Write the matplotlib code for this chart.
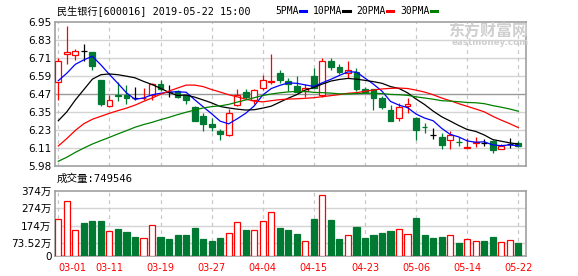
import matplotlib
matplotlib.use('Agg')
import matplotlib.pyplot as plt
from matplotlib.lines import Line2D
import numpy as np

#%% data (600016, daily, 2019-03-01 .. 2019-05-22)
dates = ['03-01', '03-04', '03-05', '03-06', '03-07', '03-08', '03-11', '03-12', '03-13', '03-14',
         '03-15', '03-18', '03-19', '03-20', '03-21', '03-22', '03-25', '03-26', '03-27', '03-28',
         '03-29', '04-01', '04-02', '04-03', '04-04', '04-08', '04-09', '04-10', '04-11', '04-12',
         '04-15', '04-16', '04-17', '04-18', '04-19', '04-22', '04-23', '04-24', '04-25', '04-26',
         '04-29', '04-30', '05-06', '05-07', '05-08', '05-09', '05-10', '05-13', '05-14', '05-15',
         '05-16', '05-17', '05-20', '05-21', '05-22']

open_ = [6.55, 6.74, 6.73, 6.76, 6.75, 6.565, 6.39, 6.465, 6.465, 6.44,
         6.44, 6.46, 6.54, 6.485, 6.49, 6.465, 6.38, 6.325, 6.265, 6.22,
         6.195, 6.395, 6.485, 6.43, 6.51, 6.553, 6.61, 6.56, 6.525, 6.49,
         6.59, 6.46, 6.69, 6.65, 6.61, 6.62, 6.505, 6.505, 6.445, 6.36,
         6.305, 6.39, 6.31, 6.25, 6.195, 6.18, 6.16, 6.15, 6.105, 6.14,
         6.14, 6.155, 6.10, 6.135, 6.14]
high = [6.71, 6.93, 6.77, 6.81, 6.75, 6.565, 6.46, 6.55, 6.53, 6.52,
        6.51, 6.545, 6.565, 6.53, 6.50, 6.465, 6.39, 6.34, 6.31, 6.235,
        6.37, 6.505, 6.505, 6.505, 6.60, 6.74, 6.63, 6.58, 6.59, 6.54,
        6.645, 6.71, 6.71, 6.67, 6.69, 6.645, 6.52, 6.505, 6.455, 6.395,
        6.41, 6.445, 6.315, 6.275, 6.24, 6.21, 6.22, 6.18, 6.175, 6.18,
        6.17, 6.16, 6.13, 6.175, 6.155]
low = [6.43, 6.67, 6.70, 6.69, 6.63, 6.39, 6.385, 6.425, 6.405, 6.43,
       6.43, 6.43, 6.49, 6.45, 6.44, 6.40, 6.285, 6.22, 6.22, 6.16,
       6.185, 6.39, 6.435, 6.40, 6.495, 6.54, 6.545, 6.49, 6.485, 6.45,
       6.51, 6.45, 6.635, 6.605, 6.58, 6.49, 6.475, 6.36, 6.37, 6.285,
       6.29, 6.34, 6.16, 6.21, 6.17, 6.10, 6.10, 6.12, 6.105, 6.11,
       6.12, 6.07, 6.10, 6.105, 6.11]
close = [6.69, 6.75, 6.76, 6.76, 6.66, 6.40, 6.43, 6.455, 6.445, 6.44,
         6.445, 6.54, 6.505, 6.485, 6.45, 6.43, 6.29, 6.265, 6.25, 6.20,
         6.34, 6.46, 6.45, 6.50, 6.565, 6.558, 6.565, 6.535, 6.485, 6.51,
         6.51, 6.69, 6.65, 6.615, 6.63, 6.505, 6.485, 6.445, 6.38, 6.285,
         6.38, 6.40, 6.23, 6.245, 6.195, 6.125, 6.195, 6.145, 6.11, 6.15,
         6.14, 6.09, 6.12, 6.135, 6.12]

ma5 = [6.56, 6.61, 6.67, 6.70, 6.724, 6.666, 6.602, 6.541, 6.478, 6.434,
       6.443, 6.465, 6.475, 6.483, 6.485, 6.482, 6.432, 6.384, 6.337, 6.287,
       6.269, 6.303, 6.34, 6.39, 6.463, 6.507, 6.528, 6.545, 6.542, 6.531,
       6.521, 6.546, 6.569, 6.595, 6.619, 6.618, 6.577, 6.536, 6.489, 6.42,
       6.395, 6.378, 6.335, 6.308, 6.29, 6.239, 6.198, 6.181, 6.154, 6.145,
       6.148, 6.127, 6.122, 6.127, 6.121]
ma10 = [6.29, 6.35, 6.43, 6.50, 6.57, 6.60, 6.605, 6.60, 6.59, 6.579,
        6.555, 6.534, 6.508, 6.481, 6.46, 6.463, 6.449, 6.43, 6.41, 6.386,
        6.376, 6.368, 6.362, 6.364, 6.375, 6.388, 6.415, 6.442, 6.466, 6.497,
        6.514, 6.537, 6.557, 6.568, 6.575, 6.57, 6.562, 6.553, 6.542, 6.52,
        6.507, 6.478, 6.436, 6.399, 6.355, 6.317, 6.288, 6.258, 6.231, 6.218,
        6.194, 6.163, 6.152, 6.141, 6.133]
ma20 = [6.12, 6.17, 6.225, 6.27, 6.30, 6.32, 6.34, 6.358, 6.375, 6.395,
        6.42, 6.443, 6.468, 6.49, 6.51, 6.53, 6.53, 6.52, 6.50, 6.483,
        6.465, 6.451, 6.435, 6.422, 6.417, 6.425, 6.432, 6.436, 6.438, 6.441,
        6.445, 6.452, 6.459, 6.466, 6.475, 6.479, 6.488, 6.497, 6.504, 6.508,
        6.51, 6.507, 6.496, 6.483, 6.465, 6.443, 6.425, 6.405, 6.387, 6.369,
        6.35, 6.32, 6.294, 6.27, 6.244]
ma30 = [6.017, 6.044, 6.077, 6.106, 6.133, 6.156, 6.178, 6.201, 6.223, 6.246,
        6.264, 6.279, 6.297, 6.313, 6.331, 6.347, 6.362, 6.376, 6.385, 6.39,
        6.40, 6.415, 6.43, 6.445, 6.46, 6.47, 6.478, 6.484, 6.487, 6.487,
        6.481, 6.479, 6.476, 6.471, 6.47, 6.473, 6.475, 6.475, 6.473, 6.467,
        6.465, 6.461, 6.451, 6.443, 6.435, 6.425, 6.422, 6.418, 6.413, 6.411,
        6.405, 6.392, 6.381, 6.369, 6.354]

# volume in 万 (10k hands)
volume = [213, 319, 152, 191, 203, 199, 142, 154, 138, 112,
          106, 177, 112, 99, 118, 118, 160, 99, 87, 106,
          134, 197, 148, 152, 203, 252, 160, 148, 124, 87,
          215, 350, 205, 99, 118, 167, 106, 118, 130, 144,
          154, 124, 221, 118, 106, 112, 118, 77, 99, 87,
          87, 112, 81, 93, 74.95]

price_ticks = ['6.95', '6.83', '6.71', '6.59', '6.47', '6.35', '6.23', '6.11', '5.98']
vol_ticks = [374, 274, 174, 73.52, 0]
vol_labels = ['374万', '274万', '174万', '73.52万', '0']

#%% styles
RED = '#ff0000'
GRN = '#007a33'
FRAME = '#a0a0a0'
GRID = '#d4d4d4'
CJK = ['DejaVu Sans', 'Noto Sans CJK SC']
MONO = ['DejaVu Sans Mono', 'Noto Sans CJK SC']

W, H = 578, 276
def box(l, t, r, b):
    return [l / W, 1 - b / H, (r - l) / W, (b - t) / H]

fig = plt.figure(figsize=(W / 100, H / 100), dpi=100)
ax = fig.add_axes(box(55, 22, 525.7, 166))
axv = fig.add_axes(box(55, 191, 525.7, 256))

n = len(dates)
x = np.arange(n)
o = np.array(open_); c = np.array(close); h = np.array(high); l = np.array(low)
bw = 0.68

for i in range(n):
    if c[i] > o[i]:
        ax.vlines(i, l[i], h[i], color=RED, lw=0.9, zorder=2)
        ax.bar(i, c[i] - o[i], bottom=o[i], width=bw, facecolor='white',
               edgecolor=RED, lw=0.9, zorder=3)
    elif c[i] < o[i]:
        ax.vlines(i, l[i], h[i], color=GRN, lw=0.9, zorder=2)
        ax.bar(i, o[i] - c[i], bottom=c[i], width=bw, facecolor=GRN,
               edgecolor=GRN, lw=0.9, zorder=3)
    else:
        ax.vlines(i, l[i], h[i], color='black', lw=0.9, zorder=2)
        ax.hlines(o[i], i - bw / 2, i + bw / 2, color='black', lw=0.9, zorder=3)

ax.plot(x, ma5, color='#0000ff', lw=0.9, zorder=4)
ax.plot(x, ma10, color='black', lw=0.9, zorder=4)
ax.plot(x, ma20, color=RED, lw=0.9, zorder=4)
ax.plot(x, ma30, color='#008000', lw=0.9, zorder=4)

ymin, ymax = 5.985, 6.955
ax.set_ylim(ymin, ymax)
yt = np.linspace(ymax, ymin, len(price_ticks))
ax.set_yticks(yt)
ax.set_yticklabels(price_ticks)
for k, v in enumerate(yt[1:-1]):
    ax.axhline(v, color='#999999' if price_ticks[k + 1] == '6.47' else GRID,
               lw=1, zorder=0)

# volume
for i in range(n):
    rising = c[i] > o[i] or (c[i] == o[i] and i > 0 and c[i] > c[i - 1])
    if rising:
        axv.bar(i, volume[i], width=0.72, facecolor='white', edgecolor=RED, lw=0.9, zorder=3)
    else:
        axv.bar(i, volume[i], width=0.72, facecolor=GRN, edgecolor=GRN, lw=0.9, zorder=3)
axv.set_ylim(0, 374)
axv.set_yticks(vol_ticks)
axv.set_yticklabels(vol_labels, family=CJK)
for v in vol_ticks[1:-1]:
    axv.axhline(v, color=GRID, lw=1, zorder=0)

lab_idx = list(range(0, n, 6))
for a in (ax, axv):
    a.set_xlim(-0.39, n - 1 + 0.87)
    for i in lab_idx:
        a.axvline(i, color='#c8c8c8', lw=0.9, ls=(0, (3, 3)), zorder=0)
    for s in a.spines.values():
        s.set_color(FRAME)
        s.set_linewidth(1.2)
    a.tick_params(length=0, labelsize=7.5, pad=2.5, colors='black')

ax.set_xticks([])
axv.set_xticks(lab_idx)
axv.set_xticklabels([dates[i] for i in lab_idx], color=RED, fontsize=7)
axv.tick_params(axis='x', pad=5)
axv.get_xticklabels()[0].set_ha('left')

# header
fig.text(57 / W, 1 - 11 / H, '民生银行[600016] 2019-05-22 15:00', family=MONO,
         fontsize=7.3, va='center', ha='left')
legend = [('5PMA', '#0000ff', 275), ('10PMA', 'black', 313),
          ('20PMA', RED, 356), ('30PMA', '#008000', 400)]
for name, col, px in legend:
    fig.text(px / W, 1 - 11 / H, name, family=MONO, fontsize=7, va='center', ha='left')
    x0 = px + 5.9 * len(name) + 1
    fig.add_artist(Line2D([x0 / W, (x0 + 6) / W], [1 - 11 / H] * 2, color=col, lw=2.2))

fig.text(57 / W, 1 - 179 / H, '成交量:749546', family=MONO, fontsize=7.6,
         va='center', ha='left')

# watermark
fig.text(448 / W, 1 - 31 / H, '东方财富网', family=['Noto Sans CJK SC'], fontweight='bold',
         fontsize=11.5, color='#cfcfcf', va='center', ha='left', zorder=1)
fig.text(452 / W, 1 - 42.5 / H, 'eastmoney.com', family=['DejaVu Sans'], fontweight='bold',
         fontsize=6.3, color='#cfcfcf', va='center', ha='left', zorder=1)

fig.savefig('out.png', dpi=100)
